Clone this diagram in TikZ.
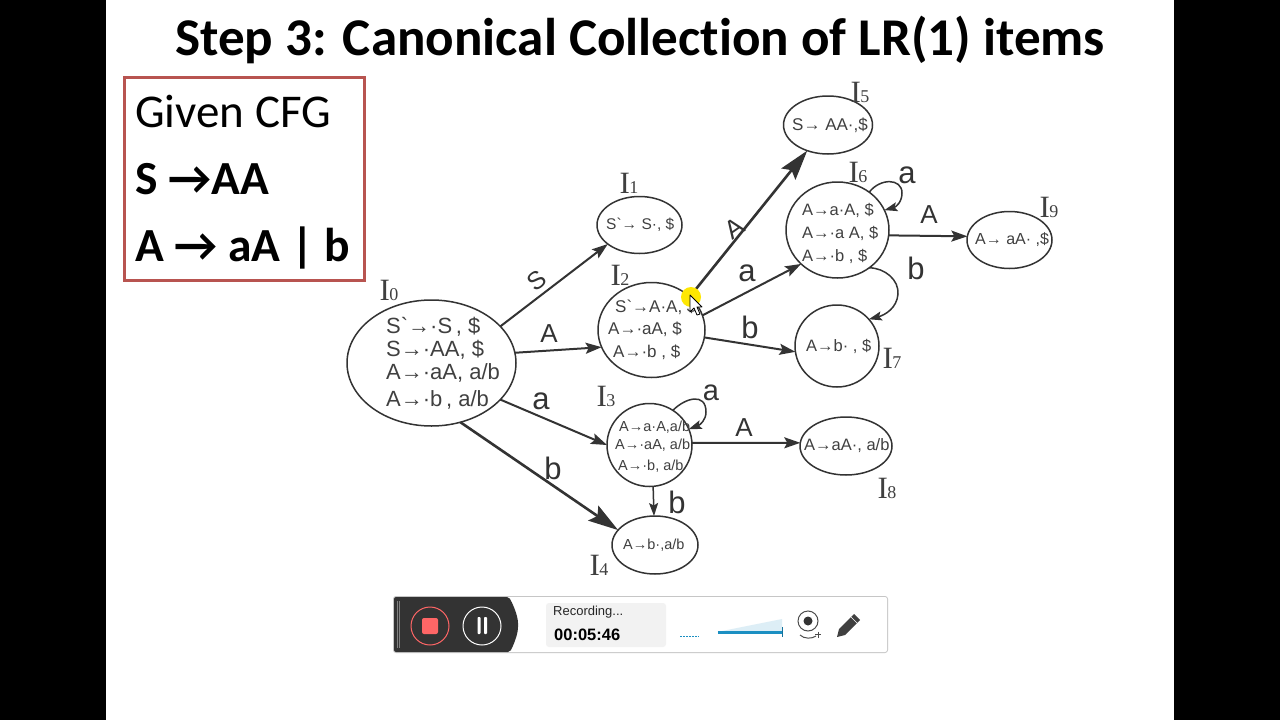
\documentclass[tikz,border=0pt]{standalone}
\usepackage{fontspec}
\usetikzlibrary{shapes.geometric,arrows.meta}
\newfontfamily\slidefont[Ligatures=CommonOff]{Carlito}
\newfontfamily\diafont{Liberation Sans}
\newfontfamily\idxfont{Liberation Serif}
\newfontfamily\uifont{Liberation Sans}
\newcommand\fsz[1]{\fontsize{#1}{#1}\selectfont}
\newcommand\stl[2]{{\fsz{31}\idxfont #1}\kern-0.5pt{\fsz{18}\idxfont #2}}
\definecolor{ink}{HTML}{333333}
\definecolor{txt}{HTML}{404040}
\definecolor{boxred}{HTML}{B85450}
\definecolor{uidark}{HTML}{333333}
\definecolor{uiblue}{HTML}{1B8FC2}
\tikzset{
  state/.style={ellipse,draw=ink,line width=1.5pt,fill=white,inner sep=0pt,outer sep=0pt},
  item/.style={anchor=west,inner sep=0pt,text=txt,font=\diafont},
  elabel/.style={inner sep=0pt,text=ink,font=\diafont},
  statelabel/.style={inner sep=0pt,text=txt,anchor=base},
  conn/.style={draw=ink,line width=2pt,-{Stealth[length=16pt,width=11pt,inset=3pt]}},
  connbig/.style={draw=ink,line width=2.6pt,-{Stealth[length=30pt,width=18pt,inset=5pt]}},
  connsmall/.style={draw=ink,line width=1.5pt,-{Stealth[length=13pt,width=9pt,inset=2.5pt]}},
  slidetext/.style={anchor=west,inner sep=0pt,text=black,font=\slidefont},
}
\begin{document}
\begin{tikzpicture}[x=1pt,y=-1pt]
\useasboundingbox (0,0) rectangle (1280,720);
\fill[white] (0,0) rectangle (1280,720);
\fill[black] (0,0) rectangle (106,720);
\fill[black] (1174,0) rectangle (1280,720);

\node[inner sep=0pt,text=black,font=\slidefont\bfseries\fsz{53.1}] (title) at (640,39.5) {Step 3: Canonical Collection of LR(1) items};

\node[draw=boxred,line width=3pt,minimum width=240pt,minimum height=203pt,inner sep=0pt] (cfgbox) at (244.5,178.5) {};
\node[slidetext,font=\slidefont\fsz{47}] (cfg0) at (135,111) {Given CFG};
\node[slidetext,font=\slidefont\bfseries\fsz{47.5}] (cfg1) at (135,179) {S →AA};
\node[slidetext,font=\slidefont\bfseries\fsz{47.5}] (cfg2) at (135,248) {A → aA | b};

% states
\node[state,minimum width=169pt,minimum height=126pt] (I0) at (431.5,363) {};
\node[state,minimum width=85pt,minimum height=57pt] (I1) at (639.5,225) {};
\node[state,minimum width=107pt,minimum height=95pt] (I2) at (651.5,330) {};
\node[state,minimum width=85pt,minimum height=83pt] (I3) at (649.5,445) {};
\node[state,minimum width=86pt,minimum height=58pt] (I4) at (655,545) {};
\node[state,minimum width=89pt,minimum height=58pt] (I5) at (828,125) {};
\node[state,minimum width=103pt,minimum height=96pt] (I6) at (837.5,230) {};
\node[state,minimum width=84pt,minimum height=82pt] (I7) at (837,346) {};
\node[state,minimum width=92pt,minimum height=58pt] (I8) at (846,446) {};
\node[state,minimum width=85pt,minimum height=57pt] (I9) at (1009.5,240) {};

% connectors
\draw[conn] (I0.28) -- (I1.211);
\draw[conn] (I0.7.6) -- (I2.199);
\draw[conn] (I0.-28) -- (I3.180);
\draw[connbig] (I0.-64.6) -- (I4.158.5);
\draw[connbig] (I2.41.8) -- (I5.231.6);
\draw[conn] (I2.16.5) -- (I6.223);
\draw[conn] (I2.-8.4) -- (I7.188);
\draw[conn] (I6.-6.7) -- (I9.175);
\draw[conn] (I3.3) -- (I8.176.3);
\draw[connsmall] (I3.-85) -- (I4.92);
\draw[connsmall] (I3.56) .. controls (685,398) and (706,392) .. (706,412) .. controls (706,420) and (700,425) .. (I3.22);
\draw[connsmall] (I6.50) .. controls (880,178) and (902,178) .. (902,193) .. controls (902,202) and (896,207) .. (I6.23);
\draw[connsmall] (I6.-50) .. controls (885,268) and (899,280) .. (898,294) .. controls (897,308) and (885,315) .. (I7.40);

% state contents
\node[item,font=\diafont\fsz{22}] (t0a) at (386,327) {S`→·S\,, \$};
\node[item,font=\diafont\fsz{22}] (t0b) at (386,350) {S→·AA, \$};
\node[item,font=\diafont\fsz{22}] (t0c) at (386,373) {A→·aA, a/b};
\node[item,font=\diafont\fsz{22}] (t0d) at (386,400) {A→·b\,, a/b};
\node[item,font=\diafont\fsz{15.5}] (t1) at (606,225) {S`→ S·, \$};
\node[item,font=\diafont\fsz{17}] (t2a) at (615,307) {S`→A·A, \$};
\node[item,font=\diafont\fsz{17}] (t2b) at (608,329) {A→·aA, \$};
\node[item,font=\diafont\fsz{17}] (t2c) at (613,352) {A→·b , \$};
\node[item,font=\diafont\fsz{14.5}] (t3a) at (619,427) {A→a·A,a/b};
\node[item,font=\diafont\fsz{14.5}] (t3b) at (615,445) {A→·aA, a/b};
\node[item,font=\diafont\fsz{14.5}] (t3c) at (618,466) {A→·b, a/b};
\node[item,font=\diafont\fsz{14.5}] (t4) at (623,545) {A→b·,a/b};
\node[item,font=\diafont\fsz{17}] (t5) at (792,125) {S→ AA·,\$};
\node[item,font=\diafont\fsz{16.5}] (t6a) at (802,210) {A→a·A, \$};
\node[item,font=\diafont\fsz{16.5}] (t6b) at (802,233) {A→·a A, \$};
\node[item,font=\diafont\fsz{16.5}] (t6c) at (802,256) {A→·b , \$};
\node[item,font=\diafont\fsz{16.5}] (t7) at (806,346) {A→b· , \$};
\node[item,font=\diafont\fsz{16.5}] (t8) at (804,446) {A→aA·, a/b};
\node[item,font=\diafont\fsz{16}] (t9) at (975,240) {A→ aA· ,\$};

% state labels
\node[statelabel] (l0) at (389,300) {\stl{I}{0}};
\node[statelabel] (l1) at (629,193) {\stl{I}{1}};
\node[statelabel] (l2) at (620,285) {\stl{I}{2}};
\node[statelabel] (l3) at (606,406) {\stl{I}{3}};
\node[statelabel] (l4) at (599,575) {\stl{I}{4}};
\node[statelabel] (l5) at (860,102) {\stl{I}{5}};
\node[statelabel] (l6) at (858,182) {\stl{I}{6}};
\node[statelabel] (l7) at (892,368) {\stl{I}{7}};
\node[statelabel] (l8) at (887,498) {\stl{I}{8}};
\node[statelabel] (l9) at (1049,217) {\stl{I}{9}};

% edge labels
\node[elabel,font=\diafont\fsz{25},rotate=38] (eS) at (537,281) {S};
\node[elabel,font=\diafont\fsz{26}] (eA1) at (549,334) {A};
\node[elabel,font=\diafont\fsz{31}] (ea1) at (541,401) {a};
\node[elabel,font=\diafont\fsz{31}] (eb1) at (553,468) {b};
\node[elabel,font=\diafont\fsz{26},rotate=35] (eA2) at (734,228) {A};
\node[elabel,font=\diafont\fsz{31}] (ea2) at (747,273) {a};
\node[elabel,font=\diafont\fsz{31}] (eb2) at (750,327) {b};
\node[elabel,font=\diafont\fsz{31}] (ea3) at (907,175) {a};
\node[elabel,font=\diafont\fsz{26}] (eA3) at (929,215) {A};
\node[elabel,font=\diafont\fsz{31}] (eb3) at (916,268) {b};
\node[elabel,font=\diafont\fsz{29}] (ea4) at (711,393) {a};
\node[elabel,font=\diafont\fsz{26}] (eA4) at (744,428) {A};
\node[elabel,font=\diafont\fsz{31}] (eb4) at (677,502) {b};

% cursor highlight
\fill[yellow!90!orange] (691,297) circle (10);
\draw[black,line width=0.8pt,fill=white,line join=round] (690,295) -- (690,312) -- (694,308) -- (697,315) -- (700,314) -- (697,307) -- (702,307) -- cycle;

% recorder bar
\fill[gray!45,rounded corners=3pt] (393,596) rectangle (888,653);
\fill[white,rounded corners=2pt] (394,597) rectangle (887,652);
\fill[uidark,rounded corners=2pt] (394,597) -- (509,597) .. controls (515,608) and (518,618) .. (518,625) .. controls (518,633) and (515,642) .. (510,652) -- (394,652) -- cycle;
\draw[gray,line width=0.5pt] (397,601) -- (397,648) (399,601) -- (399,648);
\draw[red!60!white,line width=1pt] (430,626) circle (19);
\fill[red!60!white,rounded corners=2pt] (422,618) rectangle (438,634);
\draw[white,line width=1pt] (482,626) circle (19);
\fill[white,rounded corners=0.8pt] (477.5,617) rectangle (480.5,634);
\fill[white,rounded corners=0.8pt] (484,617) rectangle (487,634);
\fill[black!5,rounded corners=3pt] (546,603) rectangle (666,647);
\node[anchor=west,inner sep=0pt,text=black!85,font=\uifont\fsz{13}] (rec) at (553,612.5) {Recording...};
\node[anchor=west,inner sep=0pt,text=black,font=\uifont\bfseries\fsz{16.5}] (time) at (554,635) {00:05:46};
\draw[uiblue,line width=1pt,dash pattern=on 1.5pt off 1.5pt] (680,636) -- (699,636);
\fill[uiblue!15] (717,632) -- (782,619) -- (782,632) -- cycle;
\draw[uiblue,line width=3pt] (718,632) -- (782,632);
\draw[uiblue!80!black,line width=1pt] (782,627) -- (782,637);
\draw[black!70,line width=1pt] (808,621) circle (10);
\fill[black!80] (808,621) circle (4.5);
\draw[black!70,line width=1pt] (800,635) .. controls (804,639) and (812,639) .. (816,636);
\draw[black!70,line width=1pt] (815,634.5) -- (821,634.5) (818,631.5) -- (818,637.5);
\fill[black!75] (837,637) -- (839,629) -- (854,614) -- (860,620) -- (845,635) -- cycle;
\draw[white,line width=0.7pt] (851,617) -- (857,623);
\end{tikzpicture}
\end{document}
